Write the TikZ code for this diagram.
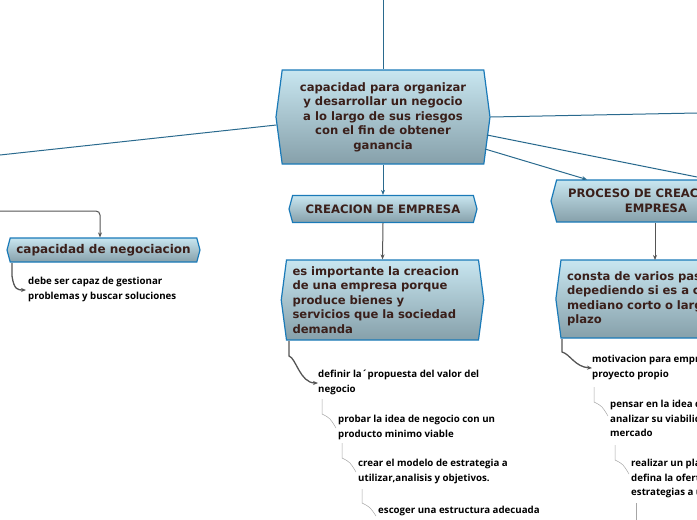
\documentclass[tikz,border=0pt]{standalone}
\usepackage{fontspec}
\setmainfont{DejaVu Sans}
\newfontfamily\smallf{Open Sans}
\usetikzlibrary{shapes.symbols,arrows.meta}
\definecolor{bordc}{HTML}{1A7AB8}
\definecolor{txtc}{HTML}{3A1F1A}
\definecolor{linec}{HTML}{2A6A8E}
\definecolor{grayc}{HTML}{555555}
\tikzset{
 hexbox/.style={shape=signal, signal to=west and east, signal pointer angle=150, draw=bordc, line width=1.2pt,
   top color=BoxTop, bottom color=BoxBot, text=txtc, font=\bfseries\fontsize{11.6}{14.5}\selectfont, inner xsep=6pt, inner ysep=3pt},
 leaf/.style={anchor=north west, text=black, font=\smallf\bfseries\fontsize{9.7}{14.5}\selectfont, align=left, inner sep=0pt},
 mainline/.style={draw=linec, line width=1pt},
 arr/.style={-{Stealth[length=5pt,width=4pt]}},
 bracket/.style={draw=grayc, line width=1.3pt, arr},
 thin/.style={draw=gray!70, line width=0.5pt},
}
\definecolor{BoxTop}{HTML}{C8E6F0}
\definecolor{BoxBot}{HTML}{86A0AA}
\begin{document}
\begin{tikzpicture}[x=1pt,y=-1pt]
\useasboundingbox (0,0) rectangle (697,520);
\clip (0,0) rectangle (697,520);
\node[hexbox, signal pointer angle=165, minimum width=214pt, minimum height=94pt, align=center] (main) at (383,117)
 {capacidad para organizar\\y desarrollar un negocio\\a lo largo de sus riesgos\\con el fin de obtener\\ganancia};
\node[hexbox, minimum width=188pt, minimum height=27pt] (crea) at (383,209) {CREACION DE EMPRESA};
\node[hexbox, signal pointer angle=165, minimum width=195pt, minimum height=80pt, text width=180pt, align=left] (imp) at (382.5,300)
 {es importante la creacion\\de una empresa porque\\produce bienes y\\servicios que la sociedad\\demanda};
\node[hexbox, minimum width=210pt, minimum height=42pt, align=center] (proc) at (656,201) {PROCESO DE CREACION DE\\EMPRESA};
\node[hexbox, signal pointer angle=165, minimum width=215pt, minimum height=78pt, text width=198pt, align=left] (cons) at (666,299)
 {consta de varios pasos\\depediendo si es a corto\\mediano corto o largo\\plazo};
\node[hexbox, minimum width=193pt, minimum height=24pt, font=\bfseries\fontsize{12}{14}\selectfont] (neg) at (103.5,250) {capacidad de negociacion};

\coordinate (top) at (383,0);
\coordinate (lft) at (0,155);
\coordinate (rt) at (697,113);
\coordinate (rt2) at (697,177);
\coordinate (lin) at (0,211);
\draw[mainline] (top) -- (main.north);
\draw[mainline] (main.west |- 0,125) ++(1,0) -- (lft);
\draw[mainline] (main.east) -- (rt);
\draw[mainline] (487,135) -- (rt2);
\draw[mainline, arr] (485,149) -- (proc.north west -| 587,180);
\draw[mainline, arr] (main.south) -- (crea.north);
\draw[grayc, line width=1pt, arr] (crea.south) -- (imp.north);
\draw[grayc, line width=1pt, arr] (proc.south -| 655,0) -- (655,260);
\draw[grayc, line width=1pt, arr, rounded corners=4pt] (lin) -- (100,211) -- (neg.north -| 100,0);

% leaves
\node[leaf] (l1) at (28,277) {debe ser capaz de gestionar\\problemas y buscar soluciones};
\draw[bracket] (12,263) -- (12,276) .. controls (14,290) and (18,290) .. (26,290);

\node[leaf] (a1) at (318,370) {definir la´propuesta del valor del\\negocio};
\node[leaf] (a2) at (338,415) {probar la idea de negocio con un\\producto minimo viable};
\node[leaf] (a3) at (358,459) {crear el modelo de estrategia a\\utilizar,analisis y objetivos.};
\node[leaf] (a4) at (378,506) {escoger una estructura adecuada};
\draw[bracket] (289,341) -- (289,356) .. controls (296,358) and (300,383) .. (a1.west |- 0,383);
\draw[thin] (322,399) -- (322,414) .. controls (330,418) .. (336,428);
\draw[thin] (342,443) -- (342,458) .. controls (350,462) .. (356,472);
\draw[thin] (362,489) -- (362,503) .. controls (370,507) .. (376,516);

\node[leaf] (b1) at (592,355) {motivacion para emprender un\\proyecto propio};
\node[leaf] (b2) at (610,400) {pensar en la idea de negocio y\\analizar su viabilidad en el\\mercado};
\node[leaf] (b3) at (631,459) {realizar un plan de negocio que\\defina la oferta del negocio y\\estrategias a utilizar};
\draw[bracket] (562,339) -- (562,352) .. controls (570,354) and (575,367) .. (b1.west |- 0,368);
\draw[thin] (594,387) -- (594,402) .. controls (602,406) .. (608,416);
\draw[thin] (615,445) -- (615,460) .. controls (623,464) .. (629,474);
\draw[thin] (636,503) -- (636,520);
\end{tikzpicture}
\end{document}
